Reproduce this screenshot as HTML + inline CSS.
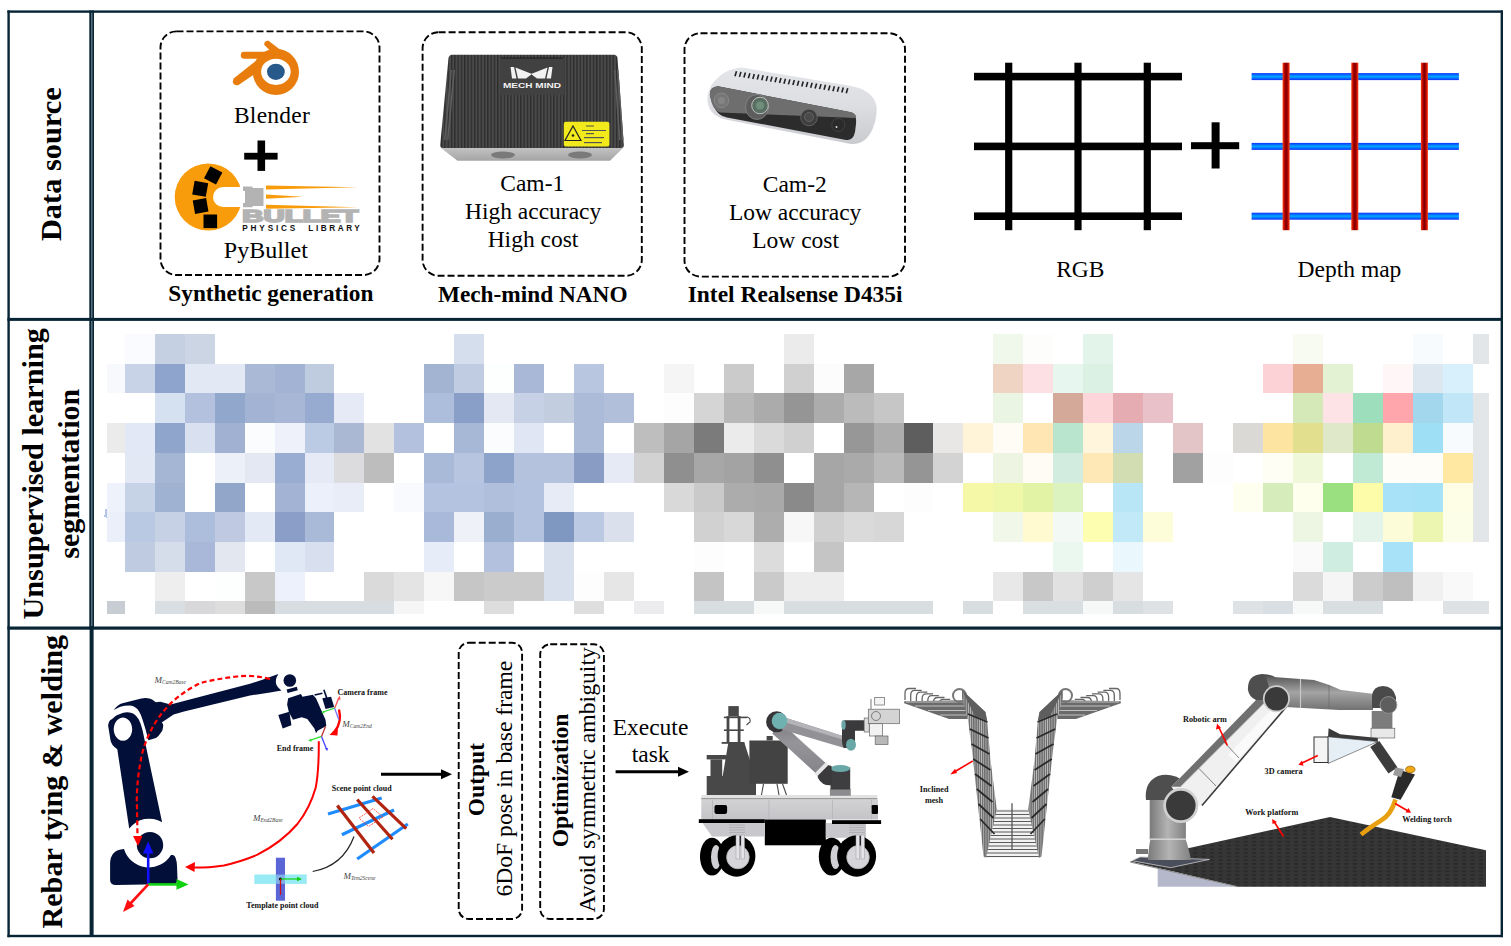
<!DOCTYPE html>
<html><head><meta charset="utf-8"><style>
html,body{margin:0;padding:0;background:#fff;width:1511px;height:946px;overflow:hidden}
svg{position:absolute;left:0;top:0;display:block}
text{font-family:"Liberation Serif",serif}
</style></head><body>
<svg width="1511" height="946" viewBox="0 0 1511 946">
<rect width="1511" height="946" fill="#fff"/>
<g shape-rendering="crispEdges"><rect x="124.80" y="334.00" width="29.95" height="29.70" fill="#fafbfe"/>
<rect x="154.75" y="334.00" width="29.95" height="29.70" fill="#c5d0e3"/>
<rect x="184.70" y="334.00" width="29.95" height="29.70" fill="#cbd5e4"/>
<rect x="454.25" y="334.00" width="29.95" height="29.70" fill="#d5deec"/>
<rect x="783.70" y="334.00" width="29.95" height="29.70" fill="#ebebeb"/>
<rect x="993.35" y="334.00" width="29.95" height="29.70" fill="#eff8ea"/>
<rect x="1023.30" y="334.00" width="29.95" height="29.70" fill="#fdfdfb"/>
<rect x="1083.20" y="334.00" width="29.95" height="29.70" fill="#e3f4ea"/>
<rect x="1292.85" y="334.00" width="29.95" height="29.70" fill="#f8fbf2"/>
<rect x="1412.65" y="334.00" width="29.95" height="29.70" fill="#f8fbfe"/>
<rect x="1472.55" y="334.00" width="16.45" height="29.70" fill="#e2e6e9"/>
<rect x="107.00" y="363.70" width="17.80" height="29.70" fill="#f8f9fc"/>
<rect x="124.80" y="363.70" width="29.95" height="29.70" fill="#c8d3e8"/>
<rect x="154.75" y="363.70" width="29.95" height="29.70" fill="#8fa4cc"/>
<rect x="184.70" y="363.70" width="29.95" height="29.70" fill="#e2e9f5"/>
<rect x="214.65" y="363.70" width="29.95" height="29.70" fill="#e2e9f5"/>
<rect x="244.60" y="363.70" width="29.95" height="29.70" fill="#a9b9d6"/>
<rect x="274.55" y="363.70" width="29.95" height="29.70" fill="#a3b3d4"/>
<rect x="304.50" y="363.70" width="29.95" height="29.70" fill="#bfcbdf"/>
<rect x="424.30" y="363.70" width="29.95" height="29.70" fill="#a3b3d2"/>
<rect x="454.25" y="363.70" width="29.95" height="29.70" fill="#c0cce2"/>
<rect x="484.20" y="363.70" width="29.95" height="29.70" fill="#fdfefe"/>
<rect x="514.15" y="363.70" width="29.95" height="29.70" fill="#a8b8d6"/>
<rect x="574.05" y="363.70" width="29.95" height="29.70" fill="#b9c6e0"/>
<rect x="663.90" y="363.70" width="29.95" height="29.70" fill="#f5f5f5"/>
<rect x="723.80" y="363.70" width="29.95" height="29.70" fill="#cbcbcb"/>
<rect x="783.70" y="363.70" width="29.95" height="29.70" fill="#d0d0d0"/>
<rect x="813.65" y="363.70" width="29.95" height="29.70" fill="#fcfcfc"/>
<rect x="843.60" y="363.70" width="29.95" height="29.70" fill="#a7a7a7"/>
<rect x="993.35" y="363.70" width="29.95" height="29.70" fill="#efd3c3"/>
<rect x="1023.30" y="363.70" width="29.95" height="29.70" fill="#fde0e3"/>
<rect x="1053.25" y="363.70" width="29.95" height="29.70" fill="#e7f6ee"/>
<rect x="1083.20" y="363.70" width="29.95" height="29.70" fill="#dbf1e4"/>
<rect x="1262.90" y="363.70" width="29.95" height="29.70" fill="#fdd2d6"/>
<rect x="1292.85" y="363.70" width="29.95" height="29.70" fill="#e8ae94"/>
<rect x="1322.80" y="363.70" width="29.95" height="29.70" fill="#e3f2d3"/>
<rect x="1382.70" y="363.70" width="29.95" height="29.70" fill="#fff7f7"/>
<rect x="1412.65" y="363.70" width="29.95" height="29.70" fill="#dde7f0"/>
<rect x="1442.60" y="363.70" width="29.95" height="29.70" fill="#d8f0fb"/>
<rect x="154.75" y="393.40" width="29.95" height="29.70" fill="#d5e0f0"/>
<rect x="184.70" y="393.40" width="29.95" height="29.70" fill="#b3c1de"/>
<rect x="214.65" y="393.40" width="29.95" height="29.70" fill="#91a7cc"/>
<rect x="244.60" y="393.40" width="29.95" height="29.70" fill="#a3b3d3"/>
<rect x="274.55" y="393.40" width="29.95" height="29.70" fill="#a7b7d5"/>
<rect x="304.50" y="393.40" width="29.95" height="29.70" fill="#97abd0"/>
<rect x="334.45" y="393.40" width="29.95" height="29.70" fill="#e5eaf6"/>
<rect x="424.30" y="393.40" width="29.95" height="29.70" fill="#adbddc"/>
<rect x="454.25" y="393.40" width="29.95" height="29.70" fill="#8a9fc8"/>
<rect x="484.20" y="393.40" width="29.95" height="29.70" fill="#e3e8f2"/>
<rect x="514.15" y="393.40" width="29.95" height="29.70" fill="#c6d1e5"/>
<rect x="544.10" y="393.40" width="29.95" height="29.70" fill="#c2cde0"/>
<rect x="574.05" y="393.40" width="29.95" height="29.70" fill="#abbbd8"/>
<rect x="604.00" y="393.40" width="29.95" height="29.70" fill="#b1bfdb"/>
<rect x="663.90" y="393.40" width="29.95" height="29.70" fill="#fdfdfd"/>
<rect x="693.85" y="393.40" width="29.95" height="29.70" fill="#d5d5d5"/>
<rect x="723.80" y="393.40" width="29.95" height="29.70" fill="#b8b8b8"/>
<rect x="753.75" y="393.40" width="29.95" height="29.70" fill="#ababab"/>
<rect x="783.70" y="393.40" width="29.95" height="29.70" fill="#959595"/>
<rect x="813.65" y="393.40" width="29.95" height="29.70" fill="#acacac"/>
<rect x="843.60" y="393.40" width="29.95" height="29.70" fill="#bbbbbb"/>
<rect x="873.55" y="393.40" width="29.95" height="29.70" fill="#c6c6c6"/>
<rect x="993.35" y="393.40" width="29.95" height="29.70" fill="#ebf5e3"/>
<rect x="1053.25" y="393.40" width="29.95" height="29.70" fill="#d5a99a"/>
<rect x="1083.20" y="393.40" width="29.95" height="29.70" fill="#fdd6d9"/>
<rect x="1113.15" y="393.40" width="29.95" height="29.70" fill="#e5acb2"/>
<rect x="1143.10" y="393.40" width="29.95" height="29.70" fill="#e8c2c8"/>
<rect x="1292.85" y="393.40" width="29.95" height="29.70" fill="#d4e8b8"/>
<rect x="1322.80" y="393.40" width="29.95" height="29.70" fill="#fee3e6"/>
<rect x="1352.75" y="393.40" width="29.95" height="29.70" fill="#9ddfbc"/>
<rect x="1382.70" y="393.40" width="29.95" height="29.70" fill="#fea6ab"/>
<rect x="1412.65" y="393.40" width="29.95" height="29.70" fill="#a3d7ed"/>
<rect x="1442.60" y="393.40" width="29.95" height="29.70" fill="#c0e6f7"/>
<rect x="1472.55" y="393.40" width="16.45" height="29.70" fill="#e3e6e9"/>
<rect x="107.00" y="423.10" width="17.80" height="29.70" fill="#ebebeb"/>
<rect x="124.80" y="423.10" width="29.95" height="29.70" fill="#e2e8f5"/>
<rect x="154.75" y="423.10" width="29.95" height="29.70" fill="#8fa5cc"/>
<rect x="184.70" y="423.10" width="29.95" height="29.70" fill="#d9e0ef"/>
<rect x="214.65" y="423.10" width="29.95" height="29.70" fill="#a0b1d2"/>
<rect x="244.60" y="423.10" width="29.95" height="29.70" fill="#fbfcfe"/>
<rect x="274.55" y="423.10" width="29.95" height="29.70" fill="#eef1f9"/>
<rect x="304.50" y="423.10" width="29.95" height="29.70" fill="#bccbe4"/>
<rect x="334.45" y="423.10" width="29.95" height="29.70" fill="#aab8d3"/>
<rect x="364.40" y="423.10" width="29.95" height="29.70" fill="#e2e2e2"/>
<rect x="394.35" y="423.10" width="29.95" height="29.70" fill="#b3c1de"/>
<rect x="454.25" y="423.10" width="29.95" height="29.70" fill="#a7b8d6"/>
<rect x="484.20" y="423.10" width="29.95" height="29.70" fill="#fbfcfe"/>
<rect x="514.15" y="423.10" width="29.95" height="29.70" fill="#e0e6f3"/>
<rect x="574.05" y="423.10" width="29.95" height="29.70" fill="#abbbd8"/>
<rect x="633.95" y="423.10" width="29.95" height="29.70" fill="#bebebe"/>
<rect x="663.90" y="423.10" width="29.95" height="29.70" fill="#a5a5a5"/>
<rect x="693.85" y="423.10" width="29.95" height="29.70" fill="#7b7b7b"/>
<rect x="723.80" y="423.10" width="29.95" height="29.70" fill="#ebebeb"/>
<rect x="753.75" y="423.10" width="29.95" height="29.70" fill="#dadada"/>
<rect x="783.70" y="423.10" width="29.95" height="29.70" fill="#d0d0d0"/>
<rect x="843.60" y="423.10" width="29.95" height="29.70" fill="#979797"/>
<rect x="873.55" y="423.10" width="29.95" height="29.70" fill="#adadad"/>
<rect x="903.50" y="423.10" width="29.95" height="29.70" fill="#5e5e5e"/>
<rect x="933.45" y="423.10" width="29.95" height="29.70" fill="#e8e7e5"/>
<rect x="963.40" y="423.10" width="29.95" height="29.70" fill="#fff4d8"/>
<rect x="993.35" y="423.10" width="29.95" height="29.70" fill="#fffcf5"/>
<rect x="1023.30" y="423.10" width="29.95" height="29.70" fill="#ffe6b3"/>
<rect x="1053.25" y="423.10" width="29.95" height="29.70" fill="#b9e5cf"/>
<rect x="1083.20" y="423.10" width="29.95" height="29.70" fill="#fff4dc"/>
<rect x="1113.15" y="423.10" width="29.95" height="29.70" fill="#bad6e8"/>
<rect x="1173.05" y="423.10" width="29.95" height="29.70" fill="#e3c5c8"/>
<rect x="1232.95" y="423.10" width="29.95" height="29.70" fill="#dad9d6"/>
<rect x="1262.90" y="423.10" width="29.95" height="29.70" fill="#fde4a0"/>
<rect x="1292.85" y="423.10" width="29.95" height="29.70" fill="#e2e08e"/>
<rect x="1322.80" y="423.10" width="29.95" height="29.70" fill="#dfe8c9"/>
<rect x="1352.75" y="423.10" width="29.95" height="29.70" fill="#bfdb90"/>
<rect x="1382.70" y="423.10" width="29.95" height="29.70" fill="#fef0cc"/>
<rect x="1412.65" y="423.10" width="29.95" height="29.70" fill="#9fdff6"/>
<rect x="1442.60" y="423.10" width="29.95" height="29.70" fill="#f8fbfe"/>
<rect x="1472.55" y="423.10" width="16.45" height="29.70" fill="#e3e6e9"/>
<rect x="124.80" y="452.80" width="29.95" height="29.70" fill="#e3e8f5"/>
<rect x="154.75" y="452.80" width="29.95" height="29.70" fill="#a5b6d4"/>
<rect x="214.65" y="452.80" width="29.95" height="29.70" fill="#ecf0f8"/>
<rect x="244.60" y="452.80" width="29.95" height="29.70" fill="#e3e8f3"/>
<rect x="274.55" y="452.80" width="29.95" height="29.70" fill="#98add1"/>
<rect x="304.50" y="452.80" width="29.95" height="29.70" fill="#e5eaf6"/>
<rect x="334.45" y="452.80" width="29.95" height="29.70" fill="#dcdcdf"/>
<rect x="364.40" y="452.80" width="29.95" height="29.70" fill="#bdbdbd"/>
<rect x="424.30" y="452.80" width="29.95" height="29.70" fill="#a9b9d8"/>
<rect x="454.25" y="452.80" width="29.95" height="29.70" fill="#b8c5e0"/>
<rect x="484.20" y="452.80" width="29.95" height="29.70" fill="#8ea3c9"/>
<rect x="514.15" y="452.80" width="29.95" height="29.70" fill="#b4c2de"/>
<rect x="544.10" y="452.80" width="29.95" height="29.70" fill="#b4c2de"/>
<rect x="574.05" y="452.80" width="29.95" height="29.70" fill="#889cc4"/>
<rect x="604.00" y="452.80" width="29.95" height="29.70" fill="#e6eaf4"/>
<rect x="633.95" y="452.80" width="29.95" height="29.70" fill="#d2d2d2"/>
<rect x="663.90" y="452.80" width="29.95" height="29.70" fill="#8f8f8f"/>
<rect x="693.85" y="452.80" width="29.95" height="29.70" fill="#a7a7a7"/>
<rect x="723.80" y="452.80" width="29.95" height="29.70" fill="#a3a3a3"/>
<rect x="753.75" y="452.80" width="29.95" height="29.70" fill="#8f8f8f"/>
<rect x="813.65" y="452.80" width="29.95" height="29.70" fill="#a6a6a6"/>
<rect x="843.60" y="452.80" width="29.95" height="29.70" fill="#aaaaaa"/>
<rect x="873.55" y="452.80" width="29.95" height="29.70" fill="#bababa"/>
<rect x="903.50" y="452.80" width="29.95" height="29.70" fill="#959595"/>
<rect x="933.45" y="452.80" width="29.95" height="29.70" fill="#d3d3d3"/>
<rect x="993.35" y="452.80" width="29.95" height="29.70" fill="#edf5e2"/>
<rect x="1023.30" y="452.80" width="29.95" height="29.70" fill="#fffbf5"/>
<rect x="1053.25" y="452.80" width="29.95" height="29.70" fill="#d2ede0"/>
<rect x="1083.20" y="452.80" width="29.95" height="29.70" fill="#fee9b6"/>
<rect x="1113.15" y="452.80" width="29.95" height="29.70" fill="#d3ddb2"/>
<rect x="1173.05" y="452.80" width="29.95" height="29.70" fill="#a1a1a1"/>
<rect x="1203.00" y="452.80" width="29.95" height="29.70" fill="#fdfdfd"/>
<rect x="1262.90" y="452.80" width="29.95" height="29.70" fill="#fefef4"/>
<rect x="1292.85" y="452.80" width="29.95" height="29.70" fill="#f0f8da"/>
<rect x="1352.75" y="452.80" width="29.95" height="29.70" fill="#c1ead5"/>
<rect x="1382.70" y="452.80" width="29.95" height="29.70" fill="#fffdf8"/>
<rect x="1412.65" y="452.80" width="29.95" height="29.70" fill="#fffdf8"/>
<rect x="1442.60" y="452.80" width="29.95" height="29.70" fill="#ffe8a2"/>
<rect x="1472.55" y="452.80" width="16.45" height="29.70" fill="#e3e6e9"/>
<rect x="107.00" y="482.50" width="17.80" height="29.70" fill="#eef2fb"/>
<rect x="124.80" y="482.50" width="29.95" height="29.70" fill="#c6d2e6"/>
<rect x="154.75" y="482.50" width="29.95" height="29.70" fill="#a0b2d2"/>
<rect x="214.65" y="482.50" width="29.95" height="29.70" fill="#91a6c8"/>
<rect x="274.55" y="482.50" width="29.95" height="29.70" fill="#a3b3d3"/>
<rect x="304.50" y="482.50" width="29.95" height="29.70" fill="#ecf0fa"/>
<rect x="334.45" y="482.50" width="29.95" height="29.70" fill="#e8edf7"/>
<rect x="394.35" y="482.50" width="29.95" height="29.70" fill="#f9fafd"/>
<rect x="424.30" y="482.50" width="29.95" height="29.70" fill="#b3c3e0"/>
<rect x="454.25" y="482.50" width="29.95" height="29.70" fill="#b3c3e0"/>
<rect x="484.20" y="482.50" width="29.95" height="29.70" fill="#b0bfdb"/>
<rect x="514.15" y="482.50" width="29.95" height="29.70" fill="#b3c2de"/>
<rect x="544.10" y="482.50" width="29.95" height="29.70" fill="#e7ebf5"/>
<rect x="663.90" y="482.50" width="29.95" height="29.70" fill="#d9d9d9"/>
<rect x="693.85" y="482.50" width="29.95" height="29.70" fill="#cacaca"/>
<rect x="723.80" y="482.50" width="29.95" height="29.70" fill="#acacac"/>
<rect x="753.75" y="482.50" width="29.95" height="29.70" fill="#a9a9a9"/>
<rect x="783.70" y="482.50" width="29.95" height="29.70" fill="#8a8a8a"/>
<rect x="813.65" y="482.50" width="29.95" height="29.70" fill="#a6a6a6"/>
<rect x="843.60" y="482.50" width="29.95" height="29.70" fill="#b6b6b6"/>
<rect x="903.50" y="482.50" width="29.95" height="29.70" fill="#fdfdfd"/>
<rect x="963.40" y="482.50" width="29.95" height="29.70" fill="#f5f8a7"/>
<rect x="993.35" y="482.50" width="29.95" height="29.70" fill="#eff7a9"/>
<rect x="1023.30" y="482.50" width="29.95" height="29.70" fill="#e2f3a6"/>
<rect x="1053.25" y="482.50" width="29.95" height="29.70" fill="#dcf2bf"/>
<rect x="1113.15" y="482.50" width="29.95" height="29.70" fill="#b8e6f7"/>
<rect x="1232.95" y="482.50" width="29.95" height="29.70" fill="#fffff0"/>
<rect x="1262.90" y="482.50" width="29.95" height="29.70" fill="#d6ecbb"/>
<rect x="1292.85" y="482.50" width="29.95" height="29.70" fill="#ffffee"/>
<rect x="1322.80" y="482.50" width="29.95" height="29.70" fill="#9ae081"/>
<rect x="1352.75" y="482.50" width="29.95" height="29.70" fill="#fdfda9"/>
<rect x="1382.70" y="482.50" width="29.95" height="29.70" fill="#a7e2f8"/>
<rect x="1412.65" y="482.50" width="29.95" height="29.70" fill="#a5e2f8"/>
<rect x="1442.60" y="482.50" width="29.95" height="29.70" fill="#fefee6"/>
<rect x="1472.55" y="482.50" width="16.45" height="29.70" fill="#e3e6e9"/>
<rect x="107.00" y="512.20" width="17.80" height="29.70" fill="#eaeff9"/>
<rect x="124.80" y="512.20" width="29.95" height="29.70" fill="#b9c9e3"/>
<rect x="154.75" y="512.20" width="29.95" height="29.70" fill="#c6d1e6"/>
<rect x="184.70" y="512.20" width="29.95" height="29.70" fill="#adbedd"/>
<rect x="214.65" y="512.20" width="29.95" height="29.70" fill="#bfcae2"/>
<rect x="244.60" y="512.20" width="29.95" height="29.70" fill="#e3e9f5"/>
<rect x="274.55" y="512.20" width="29.95" height="29.70" fill="#8a9ec8"/>
<rect x="304.50" y="512.20" width="29.95" height="29.70" fill="#a9b9d8"/>
<rect x="424.30" y="512.20" width="29.95" height="29.70" fill="#a9b9d9"/>
<rect x="454.25" y="512.20" width="29.95" height="29.70" fill="#eef1f8"/>
<rect x="484.20" y="512.20" width="29.95" height="29.70" fill="#9aaed0"/>
<rect x="514.15" y="512.20" width="29.95" height="29.70" fill="#b3c2de"/>
<rect x="544.10" y="512.20" width="29.95" height="29.70" fill="#7f98c2"/>
<rect x="574.05" y="512.20" width="29.95" height="29.70" fill="#bcc9e2"/>
<rect x="604.00" y="512.20" width="29.95" height="29.70" fill="#dae0ec"/>
<rect x="693.85" y="512.20" width="29.95" height="29.70" fill="#d1d1d1"/>
<rect x="723.80" y="512.20" width="29.95" height="29.70" fill="#d8d8d8"/>
<rect x="753.75" y="512.20" width="29.95" height="29.70" fill="#adadad"/>
<rect x="783.70" y="512.20" width="29.95" height="29.70" fill="#f7f7f7"/>
<rect x="813.65" y="512.20" width="29.95" height="29.70" fill="#d0d0d0"/>
<rect x="843.60" y="512.20" width="29.95" height="29.70" fill="#dadada"/>
<rect x="873.55" y="512.20" width="29.95" height="29.70" fill="#d7d7d7"/>
<rect x="993.35" y="512.20" width="29.95" height="29.70" fill="#f1f8ea"/>
<rect x="1023.30" y="512.20" width="29.95" height="29.70" fill="#fffad0"/>
<rect x="1053.25" y="512.20" width="29.95" height="29.70" fill="#f3f9f5"/>
<rect x="1083.20" y="512.20" width="29.95" height="29.70" fill="#fefeb0"/>
<rect x="1113.15" y="512.20" width="29.95" height="29.70" fill="#c2e9f8"/>
<rect x="1143.10" y="512.20" width="29.95" height="29.70" fill="#fdfed9"/>
<rect x="1292.85" y="512.20" width="29.95" height="29.70" fill="#edf6e3"/>
<rect x="1352.75" y="512.20" width="29.95" height="29.70" fill="#e5f4ea"/>
<rect x="1382.70" y="512.20" width="29.95" height="29.70" fill="#fcfdd8"/>
<rect x="1412.65" y="512.20" width="29.95" height="29.70" fill="#ecf6b0"/>
<rect x="1442.60" y="512.20" width="29.95" height="29.70" fill="#fdfee8"/>
<rect x="1472.55" y="512.20" width="16.45" height="29.70" fill="#e3e6e9"/>
<rect x="124.80" y="541.90" width="29.95" height="29.70" fill="#bfcbe0"/>
<rect x="154.75" y="541.90" width="29.95" height="29.70" fill="#d5dcea"/>
<rect x="184.70" y="541.90" width="29.95" height="29.70" fill="#a9b8d8"/>
<rect x="214.65" y="541.90" width="29.95" height="29.70" fill="#e3e7f0"/>
<rect x="274.55" y="541.90" width="29.95" height="29.70" fill="#e0e7f5"/>
<rect x="304.50" y="541.90" width="29.95" height="29.70" fill="#d8e0f0"/>
<rect x="424.30" y="541.90" width="29.95" height="29.70" fill="#e7edf8"/>
<rect x="484.20" y="541.90" width="29.95" height="29.70" fill="#b3c1de"/>
<rect x="544.10" y="541.90" width="29.95" height="29.70" fill="#d8e0ed"/>
<rect x="693.85" y="541.90" width="29.95" height="29.70" fill="#fdfdfd"/>
<rect x="753.75" y="541.90" width="29.95" height="29.70" fill="#dcdcdc"/>
<rect x="813.65" y="541.90" width="29.95" height="29.70" fill="#c5c5c5"/>
<rect x="1053.25" y="541.90" width="29.95" height="29.70" fill="#eaf8ef"/>
<rect x="1113.15" y="541.90" width="29.95" height="29.70" fill="#eaf7fd"/>
<rect x="1292.85" y="541.90" width="29.95" height="29.70" fill="#fafafa"/>
<rect x="1322.80" y="541.90" width="29.95" height="29.70" fill="#cfeee1"/>
<rect x="1382.70" y="541.90" width="29.95" height="29.70" fill="#a8e2f9"/>
<rect x="154.75" y="571.60" width="29.95" height="29.70" fill="#eeeeee"/>
<rect x="214.65" y="571.60" width="29.95" height="29.70" fill="#fdfefe"/>
<rect x="244.60" y="571.60" width="29.95" height="29.70" fill="#c8c8c8"/>
<rect x="274.55" y="571.60" width="29.95" height="29.70" fill="#edf1fb"/>
<rect x="364.40" y="571.60" width="29.95" height="29.70" fill="#dadada"/>
<rect x="394.35" y="571.60" width="29.95" height="29.70" fill="#e4e4e4"/>
<rect x="424.30" y="571.60" width="29.95" height="29.70" fill="#f7f7f7"/>
<rect x="454.25" y="571.60" width="29.95" height="29.70" fill="#c6c6c6"/>
<rect x="484.20" y="571.60" width="29.95" height="29.70" fill="#cbcbcb"/>
<rect x="514.15" y="571.60" width="29.95" height="29.70" fill="#cbcbcb"/>
<rect x="544.10" y="571.60" width="29.95" height="29.70" fill="#d8e0ed"/>
<rect x="574.05" y="571.60" width="29.95" height="29.70" fill="#fdfdfd"/>
<rect x="604.00" y="571.60" width="29.95" height="29.70" fill="#e6e6e6"/>
<rect x="693.85" y="571.60" width="29.95" height="29.70" fill="#c4c4c4"/>
<rect x="753.75" y="571.60" width="29.95" height="29.70" fill="#cacaca"/>
<rect x="783.70" y="571.60" width="29.95" height="29.70" fill="#ededed"/>
<rect x="813.65" y="571.60" width="29.95" height="29.70" fill="#ededed"/>
<rect x="993.35" y="571.60" width="29.95" height="29.70" fill="#e8e8e8"/>
<rect x="1023.30" y="571.60" width="29.95" height="29.70" fill="#c8c8c8"/>
<rect x="1053.25" y="571.60" width="29.95" height="29.70" fill="#e1e1e1"/>
<rect x="1083.20" y="571.60" width="29.95" height="29.70" fill="#cfcfcf"/>
<rect x="1113.15" y="571.60" width="29.95" height="29.70" fill="#e5e5e5"/>
<rect x="1292.85" y="571.60" width="29.95" height="29.70" fill="#dbdbdb"/>
<rect x="1322.80" y="571.60" width="29.95" height="29.70" fill="#f5f5f5"/>
<rect x="1352.75" y="571.60" width="29.95" height="29.70" fill="#cccccc"/>
<rect x="1382.70" y="571.60" width="29.95" height="29.70" fill="#bfbfbf"/>
<rect x="1412.65" y="571.60" width="29.95" height="29.70" fill="#f1f1f1"/>
<rect x="1442.60" y="571.60" width="29.95" height="29.70" fill="#f9f9f9"/>
<rect x="107.00" y="601.30" width="17.80" height="12.70" fill="#c8cdd3"/>
<rect x="154.75" y="601.30" width="29.95" height="12.70" fill="#d9dee2"/>
<rect x="184.70" y="601.30" width="29.95" height="12.70" fill="#d8d8da"/>
<rect x="214.65" y="601.30" width="29.95" height="12.70" fill="#dddddd"/>
<rect x="244.60" y="601.30" width="29.95" height="12.70" fill="#bbbbbb"/>
<rect x="274.55" y="601.30" width="29.95" height="12.70" fill="#d8dde2"/>
<rect x="304.50" y="601.30" width="29.95" height="12.70" fill="#d8dde2"/>
<rect x="334.45" y="601.30" width="29.95" height="12.70" fill="#d8dde2"/>
<rect x="364.40" y="601.30" width="29.95" height="12.70" fill="#d8dde2"/>
<rect x="394.35" y="601.30" width="29.95" height="12.70" fill="#f6f6f6"/>
<rect x="484.20" y="601.30" width="29.95" height="12.70" fill="#dddddd"/>
<rect x="574.05" y="601.30" width="29.95" height="12.70" fill="#dedede"/>
<rect x="633.95" y="601.30" width="29.95" height="12.70" fill="#ececee"/>
<rect x="693.85" y="601.30" width="29.95" height="12.70" fill="#d8dde0"/>
<rect x="723.80" y="601.30" width="29.95" height="12.70" fill="#d8dde0"/>
<rect x="753.75" y="601.30" width="29.95" height="12.70" fill="#f7f9f8"/>
<rect x="783.70" y="601.30" width="29.95" height="12.70" fill="#d8dde0"/>
<rect x="813.65" y="601.30" width="29.95" height="12.70" fill="#d8dde0"/>
<rect x="843.60" y="601.30" width="29.95" height="12.70" fill="#d8dde0"/>
<rect x="873.55" y="601.30" width="29.95" height="12.70" fill="#d8dde0"/>
<rect x="903.50" y="601.30" width="29.95" height="12.70" fill="#d8dde0"/>
<rect x="963.40" y="601.30" width="29.95" height="12.70" fill="#d8dde0"/>
<rect x="1023.30" y="601.30" width="29.95" height="12.70" fill="#d9dee1"/>
<rect x="1053.25" y="601.30" width="29.95" height="12.70" fill="#d9dee1"/>
<rect x="1083.20" y="601.30" width="29.95" height="12.70" fill="#f5f8f6"/>
<rect x="1113.15" y="601.30" width="29.95" height="12.70" fill="#d8dde0"/>
<rect x="1143.10" y="601.30" width="29.95" height="12.70" fill="#dee2e4"/>
<rect x="1232.95" y="601.30" width="29.95" height="12.70" fill="#dee2e5"/>
<rect x="1262.90" y="601.30" width="29.95" height="12.70" fill="#d9dee2"/>
<rect x="1292.85" y="601.30" width="29.95" height="12.70" fill="#f7f9f8"/>
<rect x="1322.80" y="601.30" width="29.95" height="12.70" fill="#d9dee1"/>
<rect x="1352.75" y="601.30" width="29.95" height="12.70" fill="#d9dee1"/>
<rect x="1442.60" y="601.30" width="29.95" height="12.70" fill="#dee2e5"/>
<rect x="1472.55" y="601.30" width="16.45" height="12.70" fill="#dee2e5"/>
<polygon points="104.2,517.3 105.5,508.8 107,509.2 107,517.6" fill="#b2c4e6"/></g>

<g>
<circle cx="275.9" cy="71.9" r="23.1" fill="#e87d0d"/>
<path d="M264.2,44.8 Q264,40.5 268.5,40.8 L291,58 L283,64 Z" fill="#e87d0d"/>
<path d="M244.2,51.85 L273.8,51.85 L266,58.75 L244.2,58.75 A3.45,3.45 0 0 1 244.2,51.85 Z" fill="#e87d0d"/>
<path d="M233.6,78.6 L257,60 L263.5,63 L252.5,75.5 L238.5,85 Q233,86 232.8,81.5 Z" fill="#e87d0d"/>
<polygon points="258,58.75 266,58.75 262,63" fill="#e87d0d"/>
<ellipse cx="275.9" cy="71.8" rx="14.8" ry="13.1" fill="#fff"/>
<ellipse cx="275.9" cy="71.8" rx="8.9" ry="8.1" fill="#275a8a"/>
</g>
<g>
<circle cx="208.3" cy="197" r="33.6" fill="#f99c0b"/>
<path d="M223,187 L264,187 L264,207 L223,207 A10,10 0 0 1 223,187 Z" fill="#fff"/>
<path d="M243,186.6 L252,186.6 L253,188 L263.5,188 L263.5,206 L253,206 L252,207.2 L243,207.2 L243,203 L245,203 L245,191 L243,191 Z" fill="#b3b3b3"/>
<rect x="206.39999999999998" y="168.6" width="13.6" height="13.6" fill="#000" transform="rotate(28 213.2 175.4)"/><rect x="193.29999999999998" y="181.9" width="13.8" height="13.8" fill="#000" transform="rotate(10 200.2 188.8)"/><rect x="193.79999999999998" y="199.2" width="13.6" height="13.6" fill="#000" transform="rotate(-10 200.6 206.0)"/><rect x="203.5" y="214.5" width="13.6" height="13.6" fill="#000" transform="rotate(0 210.3 221.3)"/>
<polygon points="266,185.5 357.5,187.2 266,189.6" fill="#f99c0b"/>
<polygon points="266,194.6 303,196.7 266,198.8" fill="#f99c0b"/>
<polygon points="266,204.8 357.5,207.2 266,208.8" fill="#f99c0b"/>
<text x="242.3" y="222.4" font-family="Liberation Sans" font-weight="bold" font-size="17" textLength="116" lengthAdjust="spacingAndGlyphs" style="font-family:'Liberation Sans';fill:#b3b3b3;stroke:#b3b3b3;stroke-width:1.7">BULLET</text>
<text x="242.3" y="230.6" font-size="8.2" font-weight="bold" textLength="53" lengthAdjust="spacing" style="font-family:'Liberation Sans';fill:#111">PHYSICS</text><text x="308.3" y="230.6" font-size="8.2" font-weight="bold" textLength="51.5" lengthAdjust="spacing" style="font-family:'Liberation Sans';fill:#111">LIBRARY</text>
</g>
<defs>
<pattern id="ridge" x="441" y="0" width="3.3" height="10" patternUnits="userSpaceOnUse">
<rect width="3.3" height="10" fill="#4a4a4a"/>
<rect width="1.3" height="10" fill="#2c2c2c"/>
</pattern>
<linearGradient id="mmfront" x1="0" y1="0" x2="0" y2="1">
<stop offset="0" stop-color="#c4c4c4"/><stop offset="1" stop-color="#a4a4a4"/>
</linearGradient>
</defs>
<g>
<polygon points="440.3,147.4 623.6,147.4 610,160.8 457.5,160.8" fill="url(#mmfront)"/>
<ellipse cx="503" cy="155" rx="12" ry="3.4" fill="#7a7a7a"/>
<ellipse cx="580" cy="155" rx="12" ry="3.4" fill="#7a7a7a"/>
<path d="M452,54.7 L614,54.7 Q617,55 617.5,58 L623.8,145 Q624,148 621,148 L443,148 Q440,148 440.2,145 L448.5,58 Q449,55 452,54.7 Z" fill="url(#ridge)"/>
<rect x="500" y="58" width="64" height="37" fill="#414141"/><g fill="#222"><rect x="501" y="57.5" width="62" height="1.2"/></g><g fill="#5e5e5e"><polygon points="450.5,70 452,70 445.5,140 444,140"/><polygon points="453.5,70 455,70 448.5,140 447,140"/><polygon points="614,70 615.5,70 620.5,140 619,140"/><polygon points="617,70 618.5,70 623.5,140 622,140"/></g>
<path d="M510.5,67 L514,67 L516.5,78.5 L512,78.5 Z M515.5,67.5 L532,74 L526,78.5 L518,78.5 Z M552.5,67 L549,67 L546.5,78.5 L551,78.5 Z M547.5,67.5 L531,74 L537,78.5 L545,78.5 Z" fill="#f2f2f2"/>
<text x="532" y="88.2" font-size="7.4" font-weight="bold" fill="#f2f2f2" text-anchor="middle" textLength="58" lengthAdjust="spacingAndGlyphs" style="font-family:'Liberation Sans'">MECH MIND</text>
<rect x="563.8" y="121.8" width="45.6" height="24.8" rx="2" fill="#f2ea1c"/>
<polygon points="573,126 581,140.5 565,140.5" fill="none" stroke="#222" stroke-width="1.2"/>
<circle cx="573" cy="135.5" r="1.3" fill="#222"/>
<g fill="#555"><rect x="586" y="125.5" width="8" height="1"/><rect x="582" y="130" width="24" height="1"/><rect x="586" y="133" width="8" height="1.2"/><rect x="584" y="137" width="20" height="1.2"/><rect x="584" y="142" width="18" height="1.2"/></g>
</g>
<defs>
<linearGradient id="rsbody" x1="0" y1="0" x2="0" y2="1">
<stop offset="0" stop-color="#e3e5e8"/><stop offset="0.5" stop-color="#dcdee1"/><stop offset="1" stop-color="#c9cbce"/>
</linearGradient>
</defs>
<g>
<path d="M742,67.6 L851,86 Q873,90 876.5,106 Q877.5,116 873,128 Q866,145 851,144 L728,120 Q711,117 708,104 Q706,96 711,86 Q722,69 742,67.6 Z" fill="url(#rsbody)"/>
<path d="M718,86.3 L851,112.3 Q857,114 856,124 L855,132 Q853,141 846,140 L727,117.5 Q718,116 714,107 L710,96 Q709,87 718,86.3 Z" fill="#2c2c2c"/>
<path d="M718,86.3 L851,112.3 Q857,114 856,118 L720,112.5 Q712,110 710,96 Q709,87 718,86.3 Z" fill="#6e6e6e"/>
<circle cx="721.4" cy="100.4" r="7.3" fill="#777" stroke="#8d8d8d" stroke-width="0.8"/>
<circle cx="721.4" cy="100.4" r="3.5" fill="#858585"/>
<ellipse cx="757" cy="107" rx="11.5" ry="12.5" fill="#5d5d5d" stroke="#8f8f8f" stroke-width="0.7"/>
<circle cx="760" cy="105.5" r="8.3" fill="#5a6f64" stroke="#c8c8c8" stroke-width="0.9"/>
<circle cx="760" cy="105.5" r="4" fill="#6f8f7c"/>
<circle cx="809" cy="117.5" r="8.3" fill="#3e3e3e" stroke="#6a6a6a" stroke-width="0.8"/>
<circle cx="809" cy="117" r="4.5" fill="#4a4a4a" stroke="#777" stroke-width="0.6"/>
<circle cx="838.3" cy="124.9" r="6.5" fill="#2a2a2a" stroke="#4a4a4a" stroke-width="0.7"/>
<circle cx="836.5" cy="127" r="1" fill="#ddd"/>
<g stroke="#222" stroke-width="1.6"><line x1="736.50" y1="71.20" x2="735.00" y2="76.20"/><line x1="740.95" y1="71.88" x2="739.45" y2="76.88"/><line x1="745.40" y1="72.56" x2="743.90" y2="77.56"/><line x1="749.85" y1="73.24" x2="748.35" y2="78.24"/><line x1="754.30" y1="73.92" x2="752.80" y2="78.92"/><line x1="758.75" y1="74.60" x2="757.25" y2="79.60"/><line x1="763.20" y1="75.28" x2="761.70" y2="80.28"/><line x1="767.65" y1="75.96" x2="766.15" y2="80.96"/><line x1="772.10" y1="76.64" x2="770.60" y2="81.64"/><line x1="776.55" y1="77.32" x2="775.05" y2="82.32"/><line x1="781.00" y1="78.00" x2="779.50" y2="83.00"/><line x1="785.45" y1="78.68" x2="783.95" y2="83.68"/><line x1="789.90" y1="79.36" x2="788.40" y2="84.36"/><line x1="794.35" y1="80.04" x2="792.85" y2="85.04"/><line x1="798.80" y1="80.72" x2="797.30" y2="85.72"/><line x1="803.25" y1="81.40" x2="801.75" y2="86.40"/><line x1="807.70" y1="82.08" x2="806.20" y2="87.08"/><line x1="812.15" y1="82.76" x2="810.65" y2="87.76"/><line x1="816.60" y1="83.44" x2="815.10" y2="88.44"/><line x1="821.05" y1="84.12" x2="819.55" y2="89.12"/><line x1="825.50" y1="84.80" x2="824.00" y2="89.80"/><line x1="829.95" y1="85.48" x2="828.45" y2="90.48"/><line x1="834.40" y1="86.16" x2="832.90" y2="91.16"/><line x1="838.85" y1="86.84" x2="837.35" y2="91.84"/><line x1="843.30" y1="87.52" x2="841.80" y2="92.52"/><line x1="847.75" y1="88.20" x2="846.25" y2="93.20"/></g>
</g>
<g fill="#020f38">
<path d="M124,849 Q110,850 110.1,864 L110.1,880 Q110.1,885 116,885 L173,884 Q177.5,884 177.5,879 L177,866 Q176.5,856 173,855 L171,855 A26,26 0 0 1 124,849 Z"/>
<circle cx="150" cy="845.1" r="13.2"/>
<path d="M108.1,725.5 Q109,720 111.4,719.6 Q116,715 118.8,714.4 Q124,712 127.7,712.2 Q131,712.5 133.6,713.7 Q137,716 138.8,719.6 Q141,724 142.5,730 L162.1,822.3 A25,25 0 0 0 129.2,828.6 L117.3,749.2 Q111,745 110.5,740 Z M122.9,717.6 A9.25,11.6 0 1 0 123,717.6 Z" fill-rule="evenodd"/>
<path d="M113.6,710 Q118,704.5 122.5,703.3 L137.3,699.6 Q142,698 145.5,698.1 Q150,698.3 152.1,699.6 L155.8,702.2 L160.3,701.8 L170.6,704.4 L250,683.7 Q262,680 270,676.9 L278.3,674.1 Q272,684 281.5,690.4 L270,692.4 L250,695.5 L184,711.5 L173.6,714.4 L161.7,722.6 Q163.5,724 163.2,726 Q162.5,731 161.7,731.5 Q158,737 155.8,738.1 L148.4,740.3 L145.5,729.2 L142.5,719.6 Q141,714.5 139.5,712.2 Q137.5,708.5 135.8,707.8 Q133,705.5 129.9,705.5 Q124,705.5 120.3,706.7 Z"/>
<circle cx="289.8" cy="680.5" r="6.3"/>
<polygon points="286.6,689.5 296.8,686.8 297.8,690.2 287.6,692.9"/>
<polygon points="288.2,698.3 300.9,693.9 302.5,696.7 312.8,694.7 316,698.3 325.5,719.7 326.3,726.1 317.6,730.8 316,733.2 314.4,728.4 307.3,718.9 301.7,717.3 293,719.7 289,712.6 287.1,704.6"/>
<polygon points="278.3,715 289.4,711.8 291.4,725.3 282.7,728.4"/>
<polygon points="322.3,698.3 331.1,696.7 334.2,707 325.5,709"/>
<polygon points="323.1,689.9 324.6,689.5 327.6,698 326,698.5"/>
<polygon points="314.4,694.3 322.3,692.5 322.6,694 314.8,695.8"/>
</g>
<g fill="none" stroke="#ff0000">
<path d="M270,679 Q252,674.5 236.9,676.5 Q215,679 201.4,682.8 Q185,690 171,703.1 Q158,716 150.7,731 Q143,746 140.6,761.4 Q137,780 136.8,799.5 L137.5,836" stroke-width="2.2" stroke-dasharray="5 3"/>
<path d="M318.8,741.2 Q319,770 315.8,787.2 Q310,808 297.4,824 Q282,842 257.5,854.7 Q240,862 223.8,865.4 Q205,868 192,867.5" stroke-width="2"/>
<path d="M339,709.5 Q342,722 335,731" stroke-width="2.4"/>
</g>
<g fill="#ff0000">
<polygon points="133,836 142.5,836 138,846"/>
<polygon points="185,867 195,862 194.5,872"/>
<polygon points="329.5,735 338,726 337.5,735.5"/>
</g>
<g stroke-width="1.3" fill="none">
<line x1="334.6" y1="708.2" x2="338.8" y2="698" stroke="#ff5050"/>
<line x1="334.6" y1="708.2" x2="323" y2="712" stroke="#30e030"/>
<line x1="334.6" y1="708.2" x2="338.8" y2="719.5" stroke="#7070ff"/>
<line x1="321.5" y1="736.4" x2="310" y2="740.3" stroke="#30e030"/>
<line x1="321.5" y1="736.4" x2="326.5" y2="749" stroke="#4040ff"/>
<line x1="321.5" y1="736.4" x2="325.5" y2="726.5" stroke="#c03030"/>
</g>
<g>
<polygon points="339.9,695.5 340.5,700 337.5,699" fill="#ff5050"/>
<polygon points="321.3,712.6 324,710.5 324.5,713.6" fill="#30e030"/>
<polygon points="308.3,740.8 311,738.5 311.6,741.8" fill="#30e030"/>
<polygon points="327.2,751 325,748.5 328.2,748" fill="#4040ff"/>
</g>
<g stroke-width="2.6" fill="none">
<line x1="148.2" y1="884.4" x2="148.2" y2="852" stroke="#1010ff"/>
<line x1="148.2" y1="884.4" x2="178" y2="884.4" stroke="#10d010"/>
<line x1="148.2" y1="884.4" x2="130" y2="904" stroke="#ff1010"/>
</g>
<polygon points="143,853.5 148.2,841.5 153.4,853.5" fill="#1010ff"/>
<polygon points="176.5,879 188.5,884.4 176.5,889.8" fill="#10d010"/>
<polygon points="127.5,899.5 134.5,906 123,912" fill="#ff1010"/>
<g stroke-linecap="butt">
<g stroke="#1e8cff" stroke-width="3.2">
<line x1="328" y1="814" x2="381.7" y2="798"/>
<line x1="341.9" y1="834.7" x2="394" y2="810"/>
<line x1="357.2" y1="859" x2="407.8" y2="824"/>
</g>
<g stroke="#b02410" stroke-width="3.2">
<line x1="337.3" y1="805.6" x2="374" y2="853"/>
<line x1="357.2" y1="799.5" x2="392.5" y2="839.3"/>
<line x1="372.5" y1="796.4" x2="406.2" y2="828.6"/>
</g>
<polygon points="359,818 373,808.5 383,817 368.5,826.5" fill="none" stroke="#ff3030" stroke-width="0.8" stroke-dasharray="2 1"/>
</g>
<rect x="254.5" y="874.6" width="52.1" height="9.2" fill="#8ee6f2"/>
<rect x="275.9" y="857.7" width="9.1" height="43" fill="#5a66d6"/>
<rect x="254.5" y="874.6" width="52.1" height="9.2" fill="#a0ecf6" opacity="0.55"/>
<circle cx="280.5" cy="879" r="1.6" fill="#000"/>
<line x1="280.5" y1="879" x2="298" y2="879" stroke="#10d010" stroke-width="1.2"/>
<polygon points="297,876.8 302,879 297,881.2" fill="#10d010"/>
<line x1="280.5" y1="879" x2="280.5" y2="895" stroke="#d01010" stroke-width="1.2"/>
<path d="M312.7,871.5 Q343,866 354,836.5" fill="none" stroke="#222" stroke-width="1.2"/>
<g style="font-family:'Liberation Serif';fill:#111" font-weight="bold" font-size="8" text-anchor="middle">
<text x="362.5" y="694.8">Camera frame</text>
<text x="295" y="750.6">End frame</text>
<text x="361.7" y="791">Scene point cloud</text>
<text x="282.4" y="908">Template point cloud</text>
</g>
<g style="font-family:'Liberation Serif';fill:#444" font-style="italic">
<text x="154.5" y="682.8" font-size="9">M<tspan font-size="5.5" dy="1.2">Cam2Base</tspan></text>
<text x="342.3" y="726.5" font-size="9">M<tspan font-size="5.5" dy="1.2">Cam2End</tspan></text>
<text x="253" y="820.5" font-size="9">M<tspan font-size="5.5" dy="1.2">End2Base</tspan></text>
<text x="343.4" y="878.8" font-size="9">M<tspan font-size="5.5" dy="1.2">Tem2Scene</tspan></text>
</g>

<defs>
<linearGradient id="urarm" x1="0" y1="0" x2="0" y2="1">
<stop offset="0" stop-color="#6e6e72"/><stop offset="0.35" stop-color="#a8a8ac"/><stop offset="1" stop-color="#7a7a7e"/>
</linearGradient>
<linearGradient id="plat" x1="0" y1="0" x2="0" y2="1">
<stop offset="0" stop-color="#d2d2d4"/><stop offset="1" stop-color="#c4c4c8"/>
</linearGradient>
</defs>
<g>
<g fill="#484848">
<rect x="706.7" y="776" width="49.3" height="19"/>
<polygon points="728.3,742.7 744.4,742.7 755,776 722.7,776"/>
<rect x="721.6" y="742" width="22.8" height="1.8"/>
<rect x="726.6" y="716.1" width="2.8" height="26.6"/>
<rect x="737.7" y="716.1" width="2.8" height="26.6"/>
<rect x="723.9" y="716.6" width="23.3" height="1.6"/>
<rect x="723.9" y="729.4" width="19.9" height="1.6"/>
<rect x="728.3" y="706.1" width="10.5" height="10.5"/>
<rect x="706.7" y="755" width="19.4" height="4.4"/>
<rect x="710.5" y="759.4" width="11.7" height="16.6"/>
<rect x="749.4" y="740.5" width="38.3" height="43.3" fill="#434343"/>
<rect x="766.6" y="736" width="6.1" height="4.5"/>
</g>
<g stroke="#484848" stroke-width="1.1">
<line x1="763.5" y1="783.8" x2="761.5" y2="795"/>
<line x1="777" y1="783.8" x2="779" y2="795"/>
<line x1="782.5" y1="783.8" x2="786.5" y2="795"/>
<path d="M747,717 Q751,718 750,722 L746.5,725" fill="none"/>
</g>
<rect x="701.3" y="795" width="176" height="4.4" fill="#e2e2e2"/>
<rect x="701.3" y="798.4" width="176" height="1" fill="#707070"/>
<rect x="701.3" y="799.4" width="176.7" height="20.1" fill="url(#plat)"/>
<g fill="#b6b6ba"><rect x="712" y="799.4" width="0.8" height="20"/><rect x="768.5" y="799.4" width="0.8" height="20"/><rect x="832" y="799.4" width="0.8" height="20"/><rect x="871" y="799.4" width="0.8" height="20"/></g>
<rect x="714.5" y="805.1" width="12.6" height="8.8" rx="1.8" fill="#000"/>
<rect x="871.7" y="805.1" width="6.3" height="8.8" rx="1.2" fill="#000"/>
<rect x="764.8" y="819.5" width="61" height="25.8" fill="#000"/>
<polygon points="702.5,823 764.8,823 764.8,836.5 712,836.5" fill="#c8c8cc"/>
<rect x="825.8" y="823" width="40.2" height="14.8" fill="#c8c8cc"/>
<rect x="698.8" y="819.2" width="66" height="3.8" fill="#000"/>
<rect x="832" y="820.2" width="49.1" height="3.8" fill="#000"/>
<g fill="#000">
<ellipse cx="712" cy="856.6" rx="12" ry="18.9"/>
<ellipse cx="831.7" cy="856.6" rx="12.9" ry="18.9"/>
</g>
<ellipse cx="716" cy="857" rx="5" ry="12" fill="#d0d0d4"/>
<ellipse cx="835.5" cy="857" rx="5" ry="12" fill="#d0d0d4"/>
<g fill="#000">
<ellipse cx="736.5" cy="856" rx="18.9" ry="20.7"/>
<ellipse cx="856.6" cy="856" rx="19.5" ry="20.7"/>
</g>
<g fill="#d6d6da" stroke="#b0b0b4" stroke-width="0.8">
<ellipse cx="737.9" cy="857.2" rx="11.3" ry="11.6"/>
<ellipse cx="858" cy="857.2" rx="11.3" ry="11.6"/>
</g>
<g fill="#e4e4e8" stroke="#9a9a9e" stroke-width="0.5">
<rect x="736" y="835" width="3.5" height="24"/><rect x="741" y="835" width="3.5" height="24"/>
<rect x="856" y="835" width="3.5" height="24"/><rect x="861" y="835" width="3.5" height="24"/>
</g>
<g stroke="#a0a0a4" stroke-width="0.6">
<line x1="729" y1="825" x2="745" y2="825"/><line x1="729" y1="827.5" x2="745" y2="827.5"/><line x1="729" y1="830" x2="745" y2="830"/><line x1="729" y1="832.5" x2="745" y2="832.5"/>
<line x1="849" y1="825" x2="865" y2="825"/><line x1="849" y1="827.5" x2="865" y2="827.5"/><line x1="849" y1="830" x2="865" y2="830"/><line x1="849" y1="832.5" x2="865" y2="832.5"/>
</g>
<rect x="829.9" y="788.8" width="20.9" height="7" fill="#8c8c90"/>
<rect x="830.5" y="767.5" width="19.7" height="22" fill="#3e3e40"/>
<ellipse cx="840.35" cy="768.5" rx="9.85" ry="3.5" fill="#6aa8a8"/>
<path d="M816.5,770 Q817,763 824,764 L831.6,766 L831.6,785.3 Q822,786 818,778 Z" fill="#3a3a3c"/>
<line x1="821.7" y1="769" x2="777" y2="728.4" stroke="url(#urarm)" stroke-width="14"/>
<line x1="821.7" y1="769" x2="777" y2="728.4" stroke="#8e8e92" stroke-width="13" opacity="0.7"/>
<polygon points="814.5,773.5 826,762 828.5,765 817,776.5" fill="#e6e6e6"/>
<circle cx="776.6" cy="721.8" r="10.5" fill="#353537"/>
<polygon points="786.3,717.9 844.4,736.5 844.4,748.1 781.6,729.5" fill="#929296"/>
<polygon points="786.3,717.9 844.4,736.5 844.4,740 784,722" fill="#b4b4b8"/>
<ellipse cx="779.5" cy="721" rx="7.8" ry="8.3" fill="#6fb0b0"/>
<path d="M842,722 Q842,720.2 845,720.2 L864.2,720.2 L864.2,730.7 L855,730.7 L855,748 L844,748 Q842,746 842,740 Z" fill="#3a3a3c"/>
<ellipse cx="851" cy="744.7" rx="5" ry="6" fill="#6aa8a8"/>
<ellipse cx="843.5" cy="725" rx="2.2" ry="4.8" fill="#6aa8a8"/>
<g fill="#dcdcdc" stroke="#666" stroke-width="0.7">
<rect x="864.2" y="718" width="5" height="14"/>
<rect x="868.3" y="709.2" width="31.2" height="14.5" fill="#d4d4d4"/>
<rect x="874.7" y="697.5" width="9.8" height="7.5" fill="#f4f4f4"/>
<rect x="869.5" y="723.7" width="13" height="12.3" fill="#f2f2f2"/>
<rect x="875.2" y="736" width="12.8" height="8.5" fill="#b8b8b8"/>
</g>
<line x1="871" y1="699" x2="871" y2="709" stroke="#555" stroke-width="0.8"/>
<circle cx="876" cy="716" r="4.5" fill="none" stroke="#666" stroke-width="0.8"/>
</g>
<g>
<defs>
<pattern id="vlines" width="2.2" height="10" patternUnits="userSpaceOnUse">
<rect width="2.2" height="10" fill="#707070"/><rect width="0.7" height="10" fill="#c4c4c4"/>
</pattern>
</defs>
<path d="M916.0,688.5 L909.0,688.5 Q905.0,688.5 905.0,693.5 L905.0,700.0" fill="none" stroke="#666" stroke-width="1.3"/><path d="M1109.0,688.5 L1116.0,688.5 Q1120.0,688.5 1120.0,693.5 L1120.0,700.0" fill="none" stroke="#666" stroke-width="1.3"/><path d="M921.7,690.3 L914.7,690.3 Q910.7,690.3 910.7,695.3 L910.7,701.8" fill="none" stroke="#666" stroke-width="1.3"/><path d="M1103.3,690.3 L1110.3,690.3 Q1114.3,690.3 1114.3,695.3 L1114.3,701.8" fill="none" stroke="#666" stroke-width="1.3"/><path d="M927.4,692.1 L920.4,692.1 Q916.4,692.1 916.4,697.1 L916.4,703.6" fill="none" stroke="#666" stroke-width="1.3"/><path d="M1097.6,692.1 L1104.6,692.1 Q1108.6,692.1 1108.6,697.1 L1108.6,703.6" fill="none" stroke="#666" stroke-width="1.3"/><path d="M933.1,693.9 L926.1,693.9 Q922.1,693.9 922.1,698.9 L922.1,705.4" fill="none" stroke="#666" stroke-width="1.3"/><path d="M1091.9,693.9 L1098.9,693.9 Q1102.9,693.9 1102.9,698.9 L1102.9,705.4" fill="none" stroke="#666" stroke-width="1.3"/><path d="M938.8,695.7 L931.8,695.7 Q927.8,695.7 927.8,700.7 L927.8,707.2" fill="none" stroke="#666" stroke-width="1.3"/><path d="M1086.2,695.7 L1093.2,695.7 Q1097.2,695.7 1097.2,700.7 L1097.2,707.2" fill="none" stroke="#666" stroke-width="1.3"/><path d="M944.5,697.5 L937.5,697.5 Q933.5,697.5 933.5,702.5 L933.5,709.0" fill="none" stroke="#666" stroke-width="1.3"/><path d="M1080.5,697.5 L1087.5,697.5 Q1091.5,697.5 1091.5,702.5 L1091.5,709.0" fill="none" stroke="#666" stroke-width="1.3"/><path d="M950.2,699.3 L943.2,699.3 Q939.2,699.3 939.2,704.3 L939.2,710.8" fill="none" stroke="#666" stroke-width="1.3"/><path d="M1074.8,699.3 L1081.8,699.3 Q1085.8,699.3 1085.8,704.3 L1085.8,710.8" fill="none" stroke="#666" stroke-width="1.3"/>
<polygon points="904.2,701.2 964.3,700.3 967.7,718.9 949.1,718.9 904.2,703.3" fill="#6a6a6a"/>
<polygon points="1120.8,701.2 1060.7,700.3 1057.3,718.9 1075.9,718.9 1120.8,703.3" fill="#6a6a6a"/>
<g stroke="#d8d8d8" stroke-width="0.8">
<line x1="906" y1="702" x2="964" y2="702"/><line x1="915" y1="706" x2="965" y2="706"/><line x1="928" y1="710.5" x2="966" y2="710.5"/><line x1="940" y1="715" x2="967" y2="715"/>
<line x1="1119" y1="702" x2="1061" y2="702"/><line x1="1110" y1="706" x2="1060" y2="706"/><line x1="1097" y1="710.5" x2="1059" y2="710.5"/><line x1="1085" y1="715" x2="1058" y2="715"/>
</g>
<circle cx="959.5" cy="695.5" r="6.5" fill="none" stroke="#777" stroke-width="2"/>
<circle cx="1065.5" cy="695.5" r="6.5" fill="none" stroke="#777" stroke-width="2"/>
<polygon points="996.8,809 1027.9,809 1041.2,857.8 984.7,857.8" fill="#f2f2f2"/>
<line x1="996.3" y1="811.0" x2="1028.4" y2="811.0" stroke="#5a5a5a" stroke-width="1.1"/><line x1="995.4" y1="814.5" x2="1029.4" y2="814.5" stroke="#5a5a5a" stroke-width="1.1"/><line x1="994.6" y1="818.0" x2="1030.3" y2="818.0" stroke="#5a5a5a" stroke-width="1.1"/><line x1="993.7" y1="821.5" x2="1031.3" y2="821.5" stroke="#5a5a5a" stroke-width="1.1"/><line x1="992.8" y1="825.0" x2="1032.2" y2="825.0" stroke="#5a5a5a" stroke-width="1.1"/><line x1="992.0" y1="828.5" x2="1033.2" y2="828.5" stroke="#5a5a5a" stroke-width="1.1"/><line x1="991.1" y1="832.0" x2="1034.1" y2="832.0" stroke="#5a5a5a" stroke-width="1.1"/><line x1="990.3" y1="835.5" x2="1035.1" y2="835.5" stroke="#5a5a5a" stroke-width="1.1"/><line x1="989.4" y1="839.0" x2="1036.0" y2="839.0" stroke="#5a5a5a" stroke-width="1.1"/><line x1="988.5" y1="842.5" x2="1037.0" y2="842.5" stroke="#5a5a5a" stroke-width="1.1"/><line x1="987.7" y1="846.0" x2="1037.9" y2="846.0" stroke="#5a5a5a" stroke-width="1.1"/><line x1="986.8" y1="849.5" x2="1038.9" y2="849.5" stroke="#5a5a5a" stroke-width="1.1"/><line x1="985.9" y1="853.0" x2="1039.8" y2="853.0" stroke="#5a5a5a" stroke-width="1.1"/><line x1="985.1" y1="856.5" x2="1040.8" y2="856.5" stroke="#5a5a5a" stroke-width="1.1"/>
<line x1="1012" y1="803.3" x2="1012" y2="849" stroke="#555" stroke-width="1.3"/>
<polygon points="962,690 985.4,712.1 987.1,720.6 990.5,760 996.8,809.6 986,857.8 983.5,856.6 972,750 967.7,718 962,698" fill="url(#vlines)"/>
<polygon points="1063,690 1039.6,712.1 1037.9,720.6 1034.5,760 1028.2,809.6 1039,857.8 1041.5,856.6 1053,750 1057.3,718 1063,698" fill="url(#vlines)"/>
<polygon points="962,690 985.4,712.1 987.1,720.6 975,716" fill="#5e5e5e"/>
<polygon points="1063,690 1039.6,712.1 1037.9,720.6 1050,716" fill="#5e5e5e"/>
<line x1="968.0" y1="714.0" x2="987.5" y2="722.0" stroke="#2a2a2a" stroke-width="1.8"/><line x1="1057.0" y1="714.0" x2="1037.5" y2="722.0" stroke="#2a2a2a" stroke-width="1.8"/><line x1="969.8" y1="729.0" x2="988.5" y2="738.0" stroke="#2a2a2a" stroke-width="1.8"/><line x1="1055.2" y1="729.0" x2="1036.5" y2="738.0" stroke="#2a2a2a" stroke-width="1.8"/><line x1="971.5" y1="744.0" x2="989.5" y2="754.0" stroke="#2a2a2a" stroke-width="1.8"/><line x1="1053.5" y1="744.0" x2="1035.5" y2="754.0" stroke="#2a2a2a" stroke-width="1.8"/><line x1="973.2" y1="759.0" x2="990.5" y2="770.0" stroke="#2a2a2a" stroke-width="1.8"/><line x1="1051.8" y1="759.0" x2="1034.5" y2="770.0" stroke="#2a2a2a" stroke-width="1.8"/><line x1="975.0" y1="774.0" x2="991.5" y2="786.0" stroke="#2a2a2a" stroke-width="1.8"/><line x1="1050.0" y1="774.0" x2="1033.5" y2="786.0" stroke="#2a2a2a" stroke-width="1.8"/><line x1="976.8" y1="789.0" x2="992.5" y2="802.0" stroke="#2a2a2a" stroke-width="1.8"/><line x1="1048.2" y1="789.0" x2="1032.5" y2="802.0" stroke="#2a2a2a" stroke-width="1.8"/><line x1="978.5" y1="804.0" x2="993.5" y2="818.0" stroke="#2a2a2a" stroke-width="1.8"/><line x1="1046.5" y1="804.0" x2="1031.5" y2="818.0" stroke="#2a2a2a" stroke-width="1.8"/><line x1="980.2" y1="819.0" x2="994.5" y2="834.0" stroke="#2a2a2a" stroke-width="1.8"/><line x1="1044.8" y1="819.0" x2="1030.5" y2="834.0" stroke="#2a2a2a" stroke-width="1.8"/>
<line x1="972.7" y1="761" x2="953" y2="772.8" stroke="#ff0000" stroke-width="1.6"/>
<polygon points="950.3,774.5 955,768.8 957,773" fill="#ff0000"/>
<g style="font-family:'Liberation Serif';fill:#111" font-weight="bold" font-size="8.2" text-anchor="middle">
<text x="934.2" y="792.2">Inclined</text>
<text x="934" y="802.8">mesh</text>
</g>
</g>
<g>
<defs>
<linearGradient id="link1" x1="0" y1="0" x2="1" y2="1">
<stop offset="0" stop-color="#6a6a6a"/><stop offset="0.3" stop-color="#8a8a8a"/><stop offset="0.42" stop-color="#f6f6f6"/><stop offset="0.85" stop-color="#e6e6e6"/><stop offset="1" stop-color="#9a9a9a"/>
</linearGradient>
<linearGradient id="link2" x1="0" y1="0" x2="0" y2="1">
<stop offset="0" stop-color="#5a5a5a"/><stop offset="0.45" stop-color="#a4a4a4"/><stop offset="1" stop-color="#6c6c6c"/>
</linearGradient>
<linearGradient id="colg" x1="0" y1="0" x2="1" y2="0">
<stop offset="0" stop-color="#7a7a7a"/><stop offset="0.5" stop-color="#b4b4b4"/><stop offset="1" stop-color="#808080"/>
</linearGradient>
<pattern id="holes" width="8.4" height="3.7" patternUnits="userSpaceOnUse">
<rect width="8.4" height="3.7" fill="#363636"/><rect x="0.5" y="1.2" width="4" height="1.3" fill="#242424"/>
</pattern>
</defs>
<polygon points="1130,861.6 1190.4,847.8 1330,817.1 1486,850.3 1486,886.8 1238.2,886.8" fill="url(#holes)"/>
<polygon points="1157.7,868 1238.2,886.8 1157.7,886.8" fill="#b4b8ca"/>
<line x1="1130" y1="862" x2="1238.2" y2="886.8" stroke="#8a8a8a" stroke-width="1"/>
<polygon points="1132,860.7 1140.2,856.9 1209.4,859.4 1170.7,867.7" fill="#4a4e5a" stroke="#c8c8cc" stroke-width="0.8"/>
<rect x="1136" y="849" width="12" height="5" fill="#777"/>
<path d="M1147.8,860 Q1149,845 1150.5,839 L1185.5,839 Q1188,845 1191,860 Z" fill="url(#colg)"/>
<rect x="1149.7" y="798" width="36.2" height="41.5" fill="url(#colg)"/>
<rect x="1149.7" y="838.5" width="36.2" height="1.4" fill="#d8d8d8"/>
<path d="M1146,800 Q1144,782 1158,776 Q1172,772 1185,782 L1190,800 Z" fill="#4e4e4e"/>
<polygon points="1171.4,786.8 1270.4,685.3 1304.8,685.3 1202,805.4 1185,805.4" fill="#f0f0f0"/>
<polygon points="1228,755 1290,690 1295,695 1236,762" fill="#fafafa"/>
<polygon points="1171.4,786.8 1270.4,685.3 1282.3,685.3 1180.7,786.8" fill="#707070"/>
<line x1="1180.7" y1="786.8" x2="1282.3" y2="685.3" stroke="#d8d8d8" stroke-width="1"/>
<line x1="1202" y1="805.4" x2="1304.8" y2="685.3" stroke="#3a3a3a" stroke-width="1.6"/>
<line x1="1199" y1="768.5" x2="1216" y2="786" stroke="#333" stroke-width="0.6"/>
<line x1="1224" y1="742" x2="1239" y2="758" stroke="#333" stroke-width="0.6"/>
<circle cx="1180.8" cy="805.5" r="17.5" fill="#d0d0d0"/>
<circle cx="1180.8" cy="805.5" r="14.8" fill="#3a3a3a"/>
<path d="M1248,690 Q1247,675 1262,674 Q1275,674 1280,682 L1282,700 L1256,700 Q1249,697 1248,690 Z" fill="#4e4e4e"/>
<path d="M1266,676.5 L1314,680 Q1328,684 1341,690 L1373,693.7 L1373,710 L1339,710 L1285,707 L1276,712 Z" fill="url(#link2)"/>
<line x1="1300.5" y1="679" x2="1300.5" y2="708" stroke="#c8c8c8" stroke-width="1.2"/>
<line x1="1329" y1="685" x2="1329" y2="709" stroke="#666" stroke-width="0.6"/>
<circle cx="1276.4" cy="698.8" r="13.5" fill="#cfcfcf"/>
<circle cx="1276.4" cy="698.8" r="11.8" fill="#3a3a3a"/>
<rect x="1371.7" y="711" width="20.7" height="18" fill="#7c7c7c"/>
<rect x="1371" y="728.2" width="23.8" height="9.8" fill="#e8e8e8" stroke="#555" stroke-width="0.6"/>
<path d="M1372,696 Q1373,686 1383,686 Q1393,686 1396,697 L1396,708 L1372,708 Z" fill="#4a4a4a"/>
<circle cx="1388.5" cy="705" r="8.4" fill="#5e5e5e" stroke="#9a9a9a" stroke-width="0.8"/>
<polygon points="1328.6,728.2 1340.1,734.3 1377.8,738 1377.8,742.8 1328,738" fill="#3a3a3a"/>
<polygon points="1327.4,736.7 1377.8,741.6 1328,763.5" fill="#e6eef6" stroke="#444" stroke-width="0.6"/>
<rect x="1314" y="737" width="14" height="25.5" fill="#f4f4f4" stroke="#333" stroke-width="1"/>
<line x1="1374.8" y1="744" x2="1393" y2="770.5" stroke="#3c3c3c" stroke-width="11"/>
<polygon points="1399.7,770.1 1415,774.4 1400.6,799.7 1391.3,797.2" fill="#2a2a2a"/>
<polygon points="1395.5,767.6 1404,769 1401,777 1393,775" fill="#9a9a9a"/>
<ellipse cx="1410.3" cy="769.5" rx="4.8" ry="3.4" fill="#f0a818" stroke="#7a5000" stroke-width="0.6"/>
<path d="M1395.5,799.5 Q1391,815 1381,820.5 Q1372,826 1361,834.5" fill="none" stroke="#e8a010" stroke-width="4.6"/>
<g stroke="#ff0000" stroke-width="1.6">
<line x1="1227.3" y1="745.4" x2="1218.5" y2="726.5"/>
<line x1="1317.8" y1="755.5" x2="1301" y2="763.5"/>
<line x1="1283.5" y1="836.5" x2="1274" y2="821.5"/>
<line x1="1395.1" y1="803.5" x2="1408.5" y2="811.3"/>
</g>
<g fill="#ff0000">
<polygon points="1217.1,723.4 1221,728 1216,729.5"/>
<polygon points="1298.4,764.8 1302,760.5 1303.5,765.8"/>
<polygon points="1272.2,818.9 1277,822 1272.5,824"/>
<polygon points="1411.1,812.8 1405.5,812.5 1408.5,808"/>
</g>
<g style="font-family:'Liberation Serif';fill:#111" font-weight="bold" font-size="8.2" text-anchor="middle">
<text x="1205" y="722">Robotic arm</text>
<text x="1283.6" y="774">3D camera</text>
<text x="1271.8" y="815.2">Work platform</text>
<text x="1427" y="821.6">Welding torch</text>
</g>
</g>

<g fill="#000">
<rect x="974" y="72.8" width="208" height="7.6"/>
<rect x="974" y="142.6" width="208" height="7.6"/>
<rect x="974" y="212.4" width="208" height="7.6"/>
<rect x="1005.1" y="62.7" width="7.2" height="167.5"/>
<rect x="1074.4" y="62.7" width="7.2" height="167.5"/>
<rect x="1143.7" y="62.7" width="7.2" height="167.5"/>
<rect x="1191" y="142.2" width="48.2" height="7"/>
<rect x="1211.6" y="122.3" width="8" height="46.2"/>
<rect x="244.2" y="152.8" width="33.4" height="6.8"/>
<rect x="257.5" y="140.5" width="7.6" height="30.4"/>
</g>
<defs>
<linearGradient id="bl" x1="0" y1="0" x2="0" y2="1">
<stop offset="0" stop-color="#1030ff"/><stop offset="0.5" stop-color="#00a8ff"/><stop offset="1" stop-color="#1030ff"/>
</linearGradient>
<linearGradient id="rd" x1="0" y1="0" x2="1" y2="0">
<stop offset="0" stop-color="#ff4010"/><stop offset="0.3" stop-color="#b00000"/><stop offset="0.5" stop-color="#7a0000"/><stop offset="0.7" stop-color="#b00000"/><stop offset="1" stop-color="#ff4010"/>
</linearGradient>
</defs>
<rect x="1251.6" y="73.1" width="207.3" height="7" fill="url(#bl)"/>
<rect x="1251.6" y="142.9" width="207.3" height="7" fill="url(#bl)"/>
<rect x="1251.6" y="212.7" width="207.3" height="7" fill="url(#bl)"/>
<rect x="1282.6" y="62.7" width="7" height="167.5" fill="url(#rd)"/>
<rect x="1351.3" y="62.7" width="7" height="167.5" fill="url(#rd)"/>
<rect x="1420.9" y="62.7" width="7" height="167.5" fill="url(#rd)"/>


<g fill="none" stroke="#000" stroke-width="1.9" stroke-dasharray="7 3">
<rect x="160.5" y="31.4" width="219" height="243.6" rx="16"/>
<rect x="422.6" y="32.2" width="219.2" height="243.6" rx="16"/>
<rect x="684.5" y="33.2" width="220.5" height="243.4" rx="16"/>
<rect x="458.7" y="642.7" width="63.4" height="276.3" rx="10"/>
<rect x="540.2" y="644.3" width="63.7" height="274.7" rx="10"/>
</g>

<g stroke="#000" stroke-width="3" fill="none">
<line x1="381" y1="774.2" x2="443" y2="774.2"/>
<line x1="615.6" y1="771.7" x2="680" y2="771.7"/>
</g>
<g fill="#000">
<polygon points="441,769.2 452,774.2 441,779.2"/>
<polygon points="678,766.7 689,771.7 678,776.7"/>
</g>


<g fill="#082536">
<rect x="91.2" y="10.4" width="0.9" height="617" fill="#3d5868"/>
<rect x="7.4" y="10.4" width="1495.2" height="2.4"/>
<rect x="7.4" y="934.8" width="1495.2" height="2.4"/>
<rect x="7.4" y="10.4" width="2.4" height="926.8"/>
<rect x="1500.6" y="10.4" width="2.4" height="926.8"/>
<rect x="7.4" y="317.9" width="1495.2" height="3"/>
<rect x="7.4" y="626.5" width="1495.2" height="3.2"/>
<rect x="89.3" y="10.4" width="1.8" height="617"/>
<rect x="92.2" y="10.4" width="1.8" height="617"/>
<rect x="89.6" y="626" width="4" height="311"/>
</g>
<text x="272" y="122.8" font-size="23.5" text-anchor="middle" letter-spacing="0.25">Blender</text><text x="265.8" y="257.8" font-size="24" text-anchor="middle">PyBullet</text><text x="270.85" y="300.8" font-size="23.3" font-weight="bold" text-anchor="middle">Synthetic generation</text><text x="532.25" y="191.2" font-size="23.5" text-anchor="middle">Cam-1</text><text x="533.1" y="218.5" font-size="23.5" text-anchor="middle">High accuracy</text><text x="533" y="247" font-size="23.5" text-anchor="middle">High cost</text><text x="532.75" y="301.5" font-size="23.3" font-weight="bold" text-anchor="middle">Mech-mind NANO</text><text x="794.75" y="191.8" font-size="23.5" text-anchor="middle">Cam-2</text><text x="795.15" y="219.7" font-size="23.5" text-anchor="middle">Low accuracy</text><text x="795.6" y="247.8" font-size="23.5" text-anchor="middle">Low cost</text><text x="795.15" y="301.8" font-size="23.45" font-weight="bold" text-anchor="middle">Intel Realsense D435i</text><text x="1080.3" y="276.6" font-size="23.5" text-anchor="middle">RGB</text><text x="1349.5" y="276.6" font-size="23.5" text-anchor="middle">Depth map</text><text x="61" y="164.15" font-size="30.4" font-weight="bold" text-anchor="middle" transform="rotate(-90 61 164.15)">Data source</text><text x="42.9" y="473.8" font-size="30.24" font-weight="bold" text-anchor="middle" transform="rotate(-90 42.9 473.8)">Unsupervised learning</text><text x="78.9" y="473.75" font-size="30" font-weight="bold" text-anchor="middle" transform="rotate(-90 78.9 473.75)">segmentation</text><text x="61.7" y="781.7" font-size="30.2" font-weight="bold" text-anchor="middle" transform="rotate(-90 61.7 781.7)">Rebar tying &amp; welding</text><text x="484" y="779.6" font-size="23.5" font-weight="bold" text-anchor="middle" transform="rotate(-90 484 779.6)">Output</text><text x="512" y="778.6" font-size="23.6" text-anchor="middle" transform="rotate(-90 512 778.6)">6DoF pose in base frame</text><text x="568.2" y="780.45" font-size="23.6" font-weight="bold" text-anchor="middle" transform="rotate(-90 568.2 780.45)">Optimization</text><text x="595" y="779.8" font-size="23.7" text-anchor="middle" transform="rotate(-90 595 779.8)">Avoid symmetric ambiguity</text><text x="650.5" y="734.6" font-size="23.5" text-anchor="middle">Execute</text><text x="650.65" y="761.5" font-size="23.5" text-anchor="middle">task</text>
</svg>
</body></html>
